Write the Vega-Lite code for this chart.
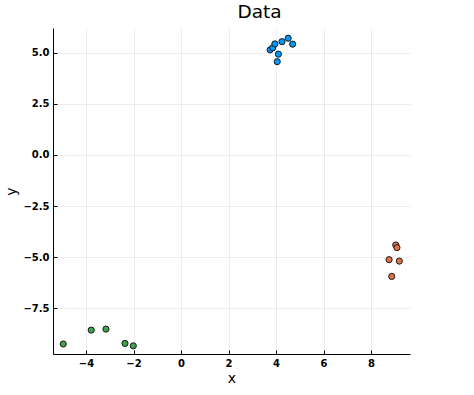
{
  "$schema": "https://vega.github.io/schema/vega-lite/v6.json",
  "width": 357,
  "height": 326,
  "autosize": {"type": "none"},
  "padding": {"left": 53, "top": 28, "right": 64, "bottom": 41},
  "background": "white",
  "title": {"text": "Data", "fontSize": 18.5, "font": "DejaVu Sans", "fontWeight": "normal", "anchor": "middle", "dx": 28, "offset": 7, "color": "#000000"},
  "config": {
    "view": {"stroke": null},
    "axis": {
      "labelFont": "DejaVu Sans", "labelFontSize": 10, "labelColor": "#000000", "labelFontWeight": "bold",
      "titleFont": "DejaVu Sans", "titleFontSize": 14, "titleFontWeight": "normal", "titleColor": "#000000",
      "domainColor": "#000000", "domainWidth": 1, "tickColor": "#000000", "tickSize": -4,
      "gridColor": "#000000", "gridOpacity": 0.07, "gridWidth": 1
    }
  },
  "data": {"values": [
    {"x": 3.75, "y": 5.15, "g": "1"},
    {"x": 3.86, "y": 5.25, "g": "1"},
    {"x": 3.95, "y": 5.44, "g": "1"},
    {"x": 4.25, "y": 5.55, "g": "1"},
    {"x": 4.51, "y": 5.72, "g": "1"},
    {"x": 4.70, "y": 5.43, "g": "1"},
    {"x": 4.10, "y": 4.94, "g": "1"},
    {"x": 4.05, "y": 4.57, "g": "1"},
    {"x": 9.04, "y": -4.41, "g": "2"},
    {"x": 9.09, "y": -4.54, "g": "2"},
    {"x": 8.76, "y": -5.13, "g": "2"},
    {"x": 9.19, "y": -5.20, "g": "2"},
    {"x": 8.87, "y": -5.95, "g": "2"},
    {"x": -4.96, "y": -9.26, "g": "3"},
    {"x": -3.78, "y": -8.58, "g": "3"},
    {"x": -3.16, "y": -8.53, "g": "3"},
    {"x": -2.36, "y": -9.23, "g": "3"},
    {"x": -2.01, "y": -9.35, "g": "3"}
  ]},
  "mark": {"type": "point", "shape": "circle", "filled": true, "size": 38, "stroke": "#1a1a1a", "strokeWidth": 1, "opacity": 1},
  "encoding": {
    "x": {"field": "x", "type": "quantitative", "title": "x",
      "scale": {"domain": [-5.39, 9.64], "nice": false, "zero": false},
      "axis": {"values": [-4, -2, 0, 2, 4, 6, 8], "format": "d", "labelPadding": 8, "titlePadding": 3}},
    "y": {"field": "y", "type": "quantitative", "title": "y",
      "scale": {"domain": [-9.75, 6.22], "nice": false, "zero": false},
      "axis": {"values": [-7.5, -5, -2.5, 0, 2.5, 5], "format": ".1f", "labelPadding": 8, "titlePadding": 4}},
    "color": {"field": "g", "type": "nominal", "legend": null,
      "scale": {"domain": ["1", "2", "3"], "range": ["#009AFA", "#E26F46", "#3DA44D"]}}
  }
}
